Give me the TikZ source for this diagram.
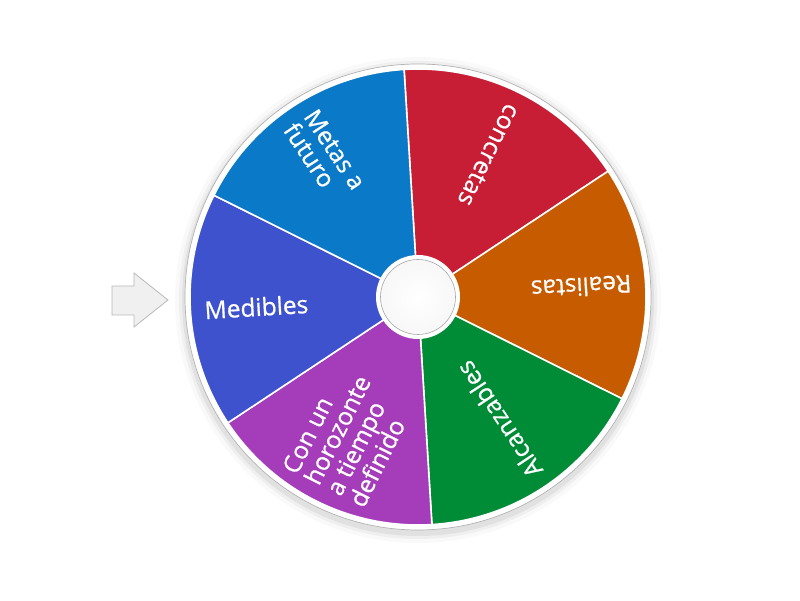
\documentclass[tikz,border=0pt]{standalone}
\usepackage{fontspec}
\setmainfont{Open Sans}
\newfontfamily\wheelfont{Open Sans}[FakeBold=0.7]
\usetikzlibrary{positioning}

\definecolor{metasblue}{HTML}{0A79C8}
\definecolor{concretasred}{HTML}{C71E36}
\definecolor{realistasorange}{HTML}{C65B00}
\definecolor{alcanzablesgreen}{HTML}{008B37}
\definecolor{horizontepurple}{HTML}{A53DBA}
\definecolor{mediblesblue}{HTML}{3F52CD}

\tikzset{
	wedge/.style={draw=white, line width=1.6pt, fill=#1},
	wedgelabel/.style={text=white, anchor=west, align=left, inner sep=0pt,
		font=\wheelfont\fontsize{24.5}{24.5}\selectfont},
	pointer/.style={draw=gray!55, fill=gray!12, line width=0.8pt, line join=miter},
}

\begin{document}
\begin{tikzpicture}[x=1pt,y=1pt]
	\useasboundingbox (0,0) rectangle (800,600);
	\coordinate (hub) at (418,303);

	% soft shadow and rim
	\foreach \r/\op in {243/0.025, 239/0.04, 236/0.06}
	\fill[black, opacity=\op] ([yshift=-3]hub) circle (\r);
	\draw[gray!60, fill=white, line width=0.7pt] (hub) circle (233);

	% wedges with their labels
	\foreach \a/\col/\txt [count=\i, evaluate=\a as \mid using \a+30] in {
		33.5/concretasred/{concretas},
		-26.5/realistasorange/{Realistas},
		-86.5/alcanzablesgreen/{Alcanzables},
		-146.5/horizontepurple/{Con un\\horozonte\\a tiempo\\definido},
		153.5/mediblesblue/{Medibles},
		93.5/metasblue/{Metas a\\futuro}}
	{
		\fill[wedge=\col] (hub) -- ++(\a:228) arc (\a:\a+60:228) -- cycle;
		\node[wedgelabel, rotate=\mid+180] (label\i) at ([shift={(\mid:214)}]hub) {\txt};
	}

	% hub in the middle
	\fill[white] (hub) circle (42);
	\shade[inner color=white, outer color=gray!6] (hub) circle (37.5);
	\draw[gray!70, line width=0.6pt] (hub) circle (37.5);

	% pointer on the left
	\coordinate (tip) at (168,300);
	\draw[pointer] (tip) -- ++(-34,27) -- ++(0,-13) -- ++(-22,0) -- ++(0,-29)
		-- ++(22,0) -- ++(0,-12) -- cycle;
\end{tikzpicture}
\end{document}
